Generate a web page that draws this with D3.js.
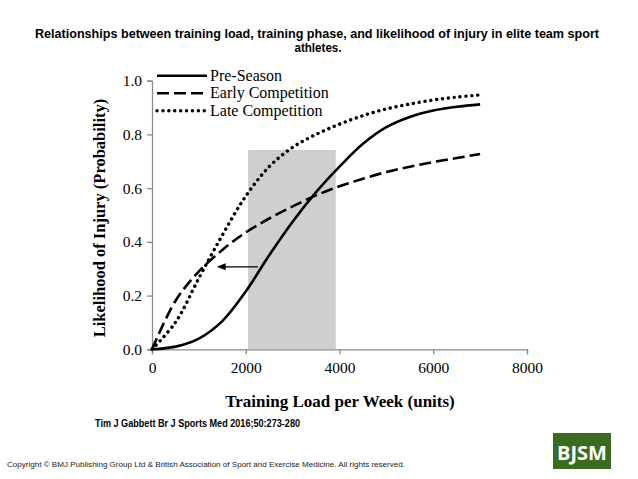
<!DOCTYPE html>
<html>
<head>
<meta charset="utf-8">
<script src="https://cdn.jsdelivr.net/npm/d3@7"></script>
<style>
  body { margin: 0; background: #fff; }
  svg { display: block; }
</style>
</head>
<body>
<svg id="chart" width="638" height="479"></svg>
<script>
// training load per week (units)
const loads = [0, 500, 1000, 1500, 2000, 2500, 3000, 3500, 4000, 4500, 5000, 5500, 6000, 6500, 7000];

// likelihood of injury (probability) per phase
const preSeason = [0, 0.01, 0.04, 0.105, 0.215, 0.35, 0.475, 0.585, 0.68, 0.765, 0.827, 0.865, 0.889, 0.903, 0.912];
const earlyComp = [0, 0.18, 0.29, 0.37, 0.435, 0.487, 0.532, 0.573, 0.607, 0.635, 0.66, 0.68, 0.697, 0.712, 0.727];
const lateComp = [0, 0.10, 0.265, 0.425, 0.57, 0.68, 0.752, 0.80, 0.838, 0.87, 0.895, 0.913, 0.928, 0.939, 0.947];

const seriesNames = ['Pre-Season', 'Early Competition', 'Late Competition'];

// shaded band and arrow (in data units)
const band = [2050, 3920, 0.742];
const arrow = [2261, 1380, 0.307];

const xTicks = [0, 2000, 4000, 6000, 8000];
const yTicks = [0, 0.2, 0.4, 0.6, 0.8, 1.0];

const svg = d3.select('#chart');

const x = d3.scaleLinear().domain([0, 8000]).range([152, 527]);
const y = d3.scaleLinear().domain([0, 1]).range([349.3, 80.7]);

// title
svg.append('text')
  .attr('x', 317).attr('y', 38)
  .attr('text-anchor', 'middle')
  .attr('font-family', 'Liberation Sans, Arial, sans-serif')
  .attr('font-weight', 'bold')
  .attr('font-size', 13)
  .attr('textLength', 564)
  .attr('lengthAdjust', 'spacingAndGlyphs')
  .text('Relationships between training load, training phase, and likelihood of injury in elite team sport');
svg.append('text')
  .attr('x', 318).attr('y', 52)
  .attr('text-anchor', 'middle')
  .attr('font-family', 'Liberation Sans, Arial, sans-serif')
  .attr('font-weight', 'bold')
  .attr('font-size', 13)
  .attr('textLength', 47)
  .attr('lengthAdjust', 'spacingAndGlyphs')
  .text('athletes.');

// shaded band
svg.append('rect')
  .attr('x', x(band[0]))
  .attr('y', y(band[2]))
  .attr('width', x(band[1]) - x(band[0]))
  .attr('height', y(0) - y(band[2]))
  .attr('fill', '#cfcfcf');

// axes
const xAxis = svg.append('g')
  .attr('transform', `translate(0,${y(0)})`)
  .call(d3.axisBottom(x).tickValues(xTicks).tickSize(5).tickPadding(8).tickFormat(d3.format('d')));
const yAxis = svg.append('g')
  .attr('transform', `translate(${x(0)},0)`)
  .call(d3.axisLeft(y).tickValues(yTicks).tickSize(5).tickPadding(5).tickFormat(d3.format('.1f')));

[xAxis, yAxis].forEach(g => {
  g.select('.domain').attr('stroke', '#8a8a8a').attr('stroke-width', 1.3);
  g.selectAll('.tick line').attr('stroke', '#8a8a8a').attr('stroke-width', 1.3);
  g.selectAll('.tick text')
    .attr('fill', '#000')
    .attr('font-family', 'Liberation Serif, Times New Roman, serif')
    .attr('font-size', 15.5);
});

// curves
const line = d3.line()
  .x((d, i) => x(loads[i]))
  .y(d => y(d))
  .curve(d3.curveCatmullRom.alpha(0.5));

const styles = [
  { data: preSeason, dash: null, width: 2.6, cap: 'butt' },
  { data: earlyComp, dash: '12 5', width: 2.6, cap: 'butt' },
  { data: lateComp, dash: '0.1 5.8', width: 3.4, cap: 'round' }
];

styles.forEach(s => {
  svg.append('path')
    .datum(s.data)
    .attr('d', line)
    .attr('fill', 'none')
    .attr('stroke', '#000')
    .attr('stroke-width', s.width)
    .attr('stroke-linecap', s.cap)
    .attr('stroke-dasharray', s.dash);
});

// arrow (shaft + head)
const ax0 = x(arrow[0]), ax1 = x(arrow[1]), ay = y(arrow[2]);
svg.append('line')
  .attr('x1', ax0).attr('y1', ay)
  .attr('x2', ax1 + 6).attr('y2', ay)
  .attr('stroke', '#000')
  .attr('stroke-width', 1.3);
svg.append('path')
  .attr('d', `M${ax1},${ay} L${ax1 + 9},${ay - 3.5} L${ax1 + 9},${ay + 3.5} Z`)
  .attr('fill', '#000');

// legend
const legend = svg.append('g');
seriesNames.forEach((name, i) => {
  const ly = 75.7 + i * 17.5;
  const s = styles[i];
  legend.append('line')
    .attr('x1', 157).attr('x2', 207)
    .attr('y1', ly).attr('y2', ly)
    .attr('stroke', '#000')
    .attr('stroke-width', s.width)
    .attr('stroke-linecap', s.cap)
    .attr('stroke-dasharray', s.dash);
  legend.append('text')
    .attr('x', 210).attr('y', ly + 5)
    .attr('font-family', 'Liberation Serif, Times New Roman, serif')
    .attr('font-size', 16)
    .text(name);
});

// axis titles
svg.append('text')
  .attr('x', 340).attr('y', 407)
  .attr('text-anchor', 'middle')
  .attr('font-family', 'Liberation Serif, Times New Roman, serif')
  .attr('font-weight', 'bold')
  .attr('font-size', 17)
  .text('Training Load per Week (units)');
svg.append('text')
  .attr('transform', 'translate(105,218) rotate(-90)')
  .attr('text-anchor', 'middle')
  .attr('font-family', 'Liberation Serif, Times New Roman, serif')
  .attr('font-weight', 'bold')
  .attr('font-size', 16.5)
  .text('Likelihood of Injury (Probability)');

// footer
svg.append('text')
  .attr('x', 95).attr('y', 427)
  .attr('font-family', 'Liberation Sans, Arial, sans-serif')
  .attr('font-weight', 'bold')
  .attr('font-size', 10)
  .attr('textLength', 205)
  .attr('lengthAdjust', 'spacingAndGlyphs')
  .text('Tim J Gabbett Br J Sports Med 2016;50:273-280');
svg.append('text')
  .attr('x', 7).attr('y', 467)
  .attr('font-family', 'Liberation Sans, Arial, sans-serif')
  .attr('font-size', 8)
  .attr('fill', '#222')
  .attr('textLength', 398)
  .attr('lengthAdjust', 'spacingAndGlyphs')
  .text('Copyright \u00A9 BMJ Publishing Group Ltd & British Association of Sport and Exercise Medicine. All rights reserved.');

// BJSM logo
svg.append('rect')
  .attr('x', 553).attr('y', 433)
  .attr('width', 58).attr('height', 36)
  .attr('fill', '#3b6b1e');
svg.append('text')
  .attr('x', 582).attr('y', 459.5)
  .attr('text-anchor', 'middle')
  .attr('font-family', 'Open Sans, Liberation Sans, sans-serif')
  .attr('font-weight', 'bold')
  .attr('font-size', 20)
  .attr('fill', '#fff')
  .text('BJSM');
</script>
</body>
</html>
